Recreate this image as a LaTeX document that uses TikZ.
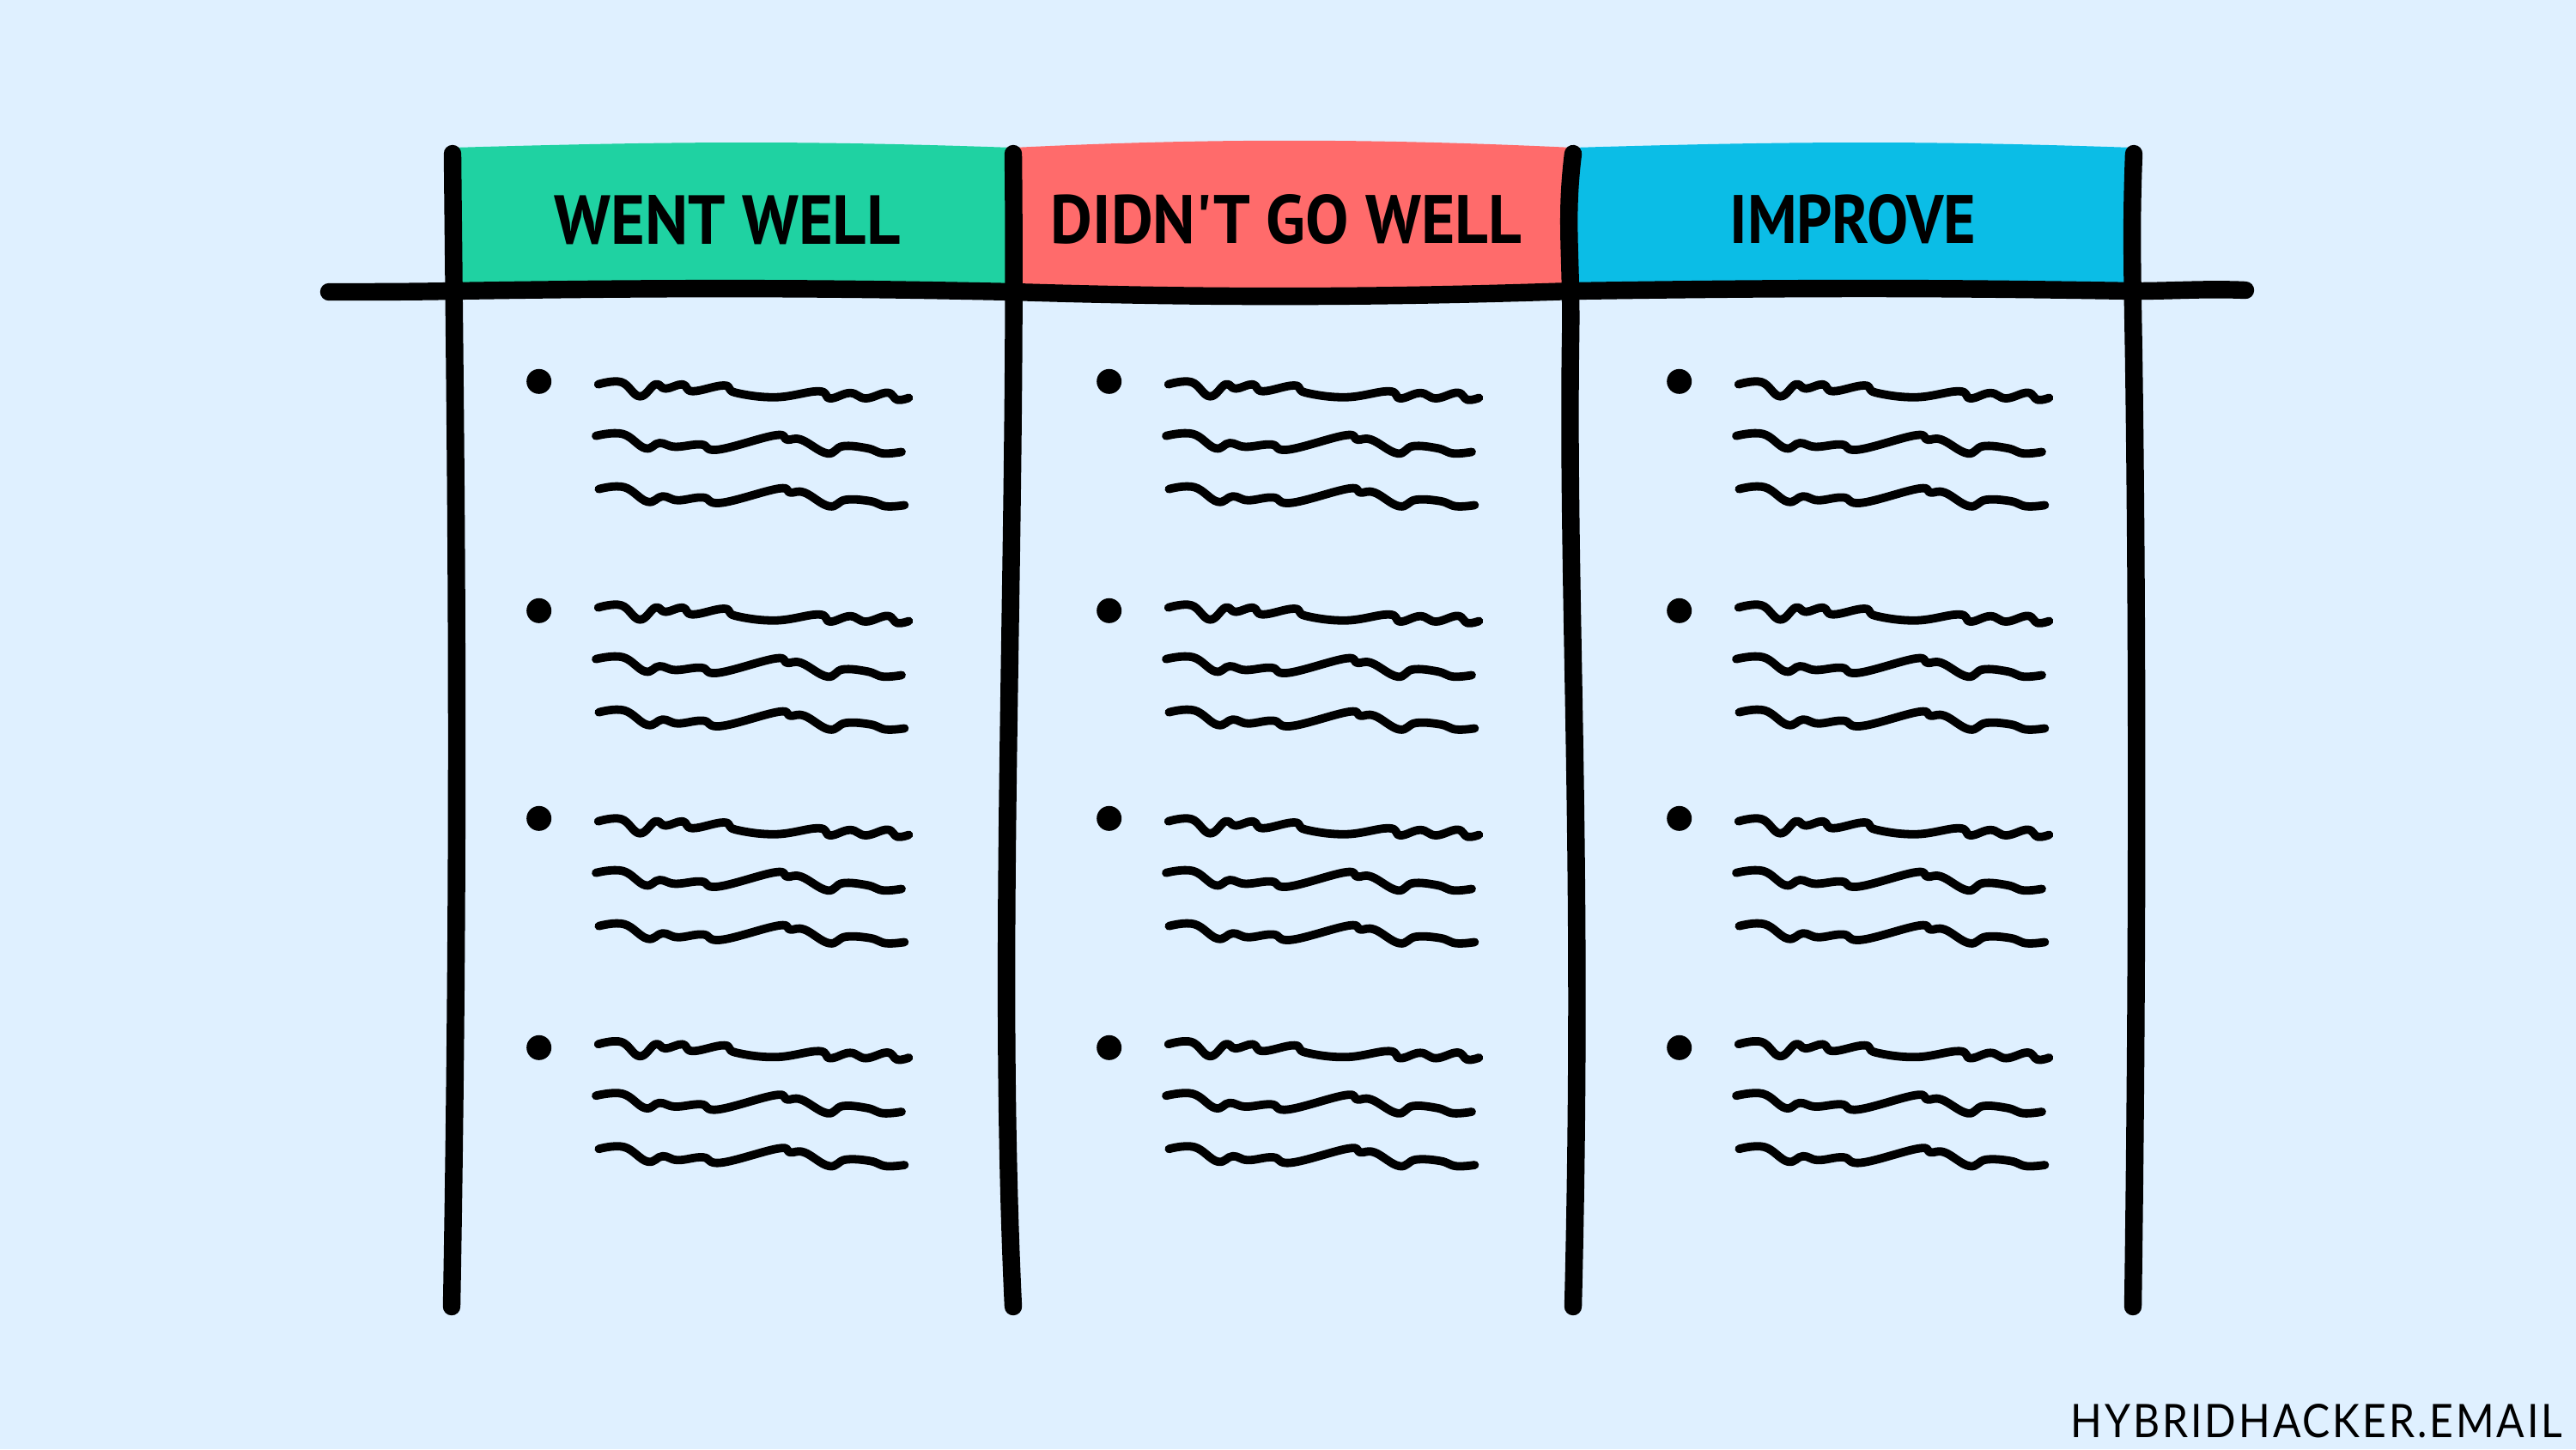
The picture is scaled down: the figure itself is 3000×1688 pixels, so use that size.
\documentclass[tikz,border=0pt]{standalone}
\usepackage{fontspec}
\usepackage{graphicx}
\newfontfamily\headfont{PT Sans}[Scale=1]
\newfontfamily\footfont{Lato}[LetterSpace=6]
\definecolor{bgc}{HTML}{DFF0FF}
\definecolor{greenc}{HTML}{1FD2A2}
\definecolor{redc}{HTML}{FF6B6B}
\definecolor{bluec}{HTML}{0BBDE6}
\newlength{\ux}\setlength{\ux}{0.24pt}
\tikzset{
  rule/.style={line width=4.9pt,line cap=round,line join=round},
  squig/.style={line width=2.35pt,line cap=round,line join=round},
  dot/.style={circle,fill=black,inner sep=0pt,minimum size=6.96pt},
  head/.style={inner sep=0pt,text=black},
  notes/.pic={
    \draw[squig,xshift=18.24pt] plot[smooth,tension=0.7] coordinates {(-7,3.3)(19.7,.6)(41.3,17.3)(59.7,3.3)(71.3,8.3)(91.3,3.3)(103,11.3)(139.7,4.6)(153,13)(199.7,18.3)(249.7,11.3)(263,19.6)(286.3,13.3)(304.7,19.6)(329.7,13)(341.3,21.3)(354.7,19)};
    \draw[squig,xshift=18.24pt] plot[smooth,tension=0.7] coordinates {(-9.7,63.3)(21.3,61)(47.7,77.7)(64.3,71.6)(82.7,76)(112.7,73.3)(132.7,79.3)(199.3,62.6)(212.7,67.7)(229.3,67.7)(259.7,83.7)(278,75.3)(306.3,77.7)(324.7,83.7)(346.3,82)};
    \draw[squig,xshift=18.24pt] plot[smooth,tension=0.7] coordinates {(-6.3,125.3)(23,123)(50.3,140)(68,133.7)(85.7,138.3)(114.7,135)(136.3,141.3)(203,124.7)(216.3,129.3)(233,129.3)(262,145.3)(281.3,137.7)(309.7,139.3)(328,145.3)(349.7,144)};
  }
}
\begin{document}
\begin{tikzpicture}[x=0.24pt,y=-0.24pt]
\useasboundingbox (0,0) rectangle (3000,1688);
\fill[bgc] (0,0) rectangle (3000,1688);
% header fills
\fill[greenc] (527,172) .. controls (800,164) and (950,164) .. (1180,172) -- (1180,340) .. controls (950,335) and (800,335) .. (527,340) -- cycle;
\fill[redc] (1180,172) .. controls (1400,161) and (1600,161) .. (1832,172) -- (1832,340) .. controls (1600,348) and (1400,348) .. (1180,340) -- cycle;
\fill[bluec] (1832,172) .. controls (2100,164) and (2250,164) .. (2485,172) -- (2485,340) .. controls (2250,335) and (2100,335) .. (1832,340) -- cycle;
% horizontal rule
\draw[rule] (383,340) .. controls (430,340) and (470,340) .. (527,339) .. controls (780,335) and (950,335) .. (1180,340) .. controls (1400,347) and (1600,347) .. (1832,339) .. controls (2100,335) and (2250,335) .. (2485,339) .. controls (2530,339) and (2570,336) .. (2615,338);
% vertical rules
\draw[rule] (527,179) .. controls (530,500) and (537,900) .. (526,1522);
\draw[rule] (1180,179) .. controls (1185,650) and (1160,1100) .. (1180,1522);
\draw[rule] (1832,179) .. controls (1822,260) and (1831,300) .. (1829,400) .. controls (1825,700) and (1845,1000) .. (1832,1522);
\draw[rule] (2485,179) .. controls (2482,260) and (2483,300) .. (2485,420) .. controls (2489,700) and (2490,1100) .. (2484,1522);
% titles
\node[head,font=\headfont\bfseries] (t1) at (847,256) {\resizebox{403\ux}{57\ux}{WENT WELL}};
\node[head,font=\headfont\bfseries] (t2) at (1498,256) {\resizebox{548\ux}{57\ux}{DIDN'T GO WELL}};
\node[head,font=\headfont\bfseries] (t3) at (2158,256) {\resizebox{287\ux}{57\ux}{IMPROVE}};
% bullet groups
\foreach \cx/\cn in {627.7/a,1291.7/b,1955.7/c}
  \foreach \by/\sy/\rn in {444.3/444.4/1,711.3/704.4/2,953.3/953.4/3,1220.3/1213/4}{
    \node[dot] (d\cn\rn) at (\cx,\by) {};
    \pic (n\cn\rn) at (\cx,\sy) {notes};
  }
\node[head,font=\footfont] (f) at (2698,1655) {\resizebox{572\ux}{39\ux}{HYBRIDHACKER.EMAIL}};
\end{tikzpicture}
\end{document}
